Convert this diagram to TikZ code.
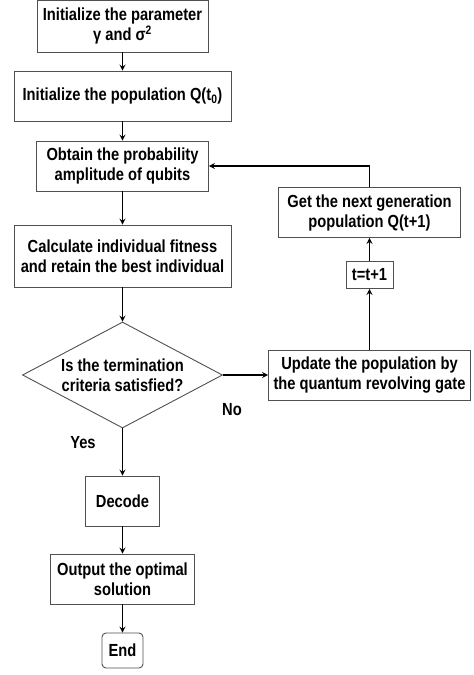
\documentclass[tikz,border=0pt]{standalone}
\usepackage{fontspec}
\setmainfont[FakeStretch=0.84]{Liberation Sans}
\usetikzlibrary{shapes.geometric, arrows}
\definecolor{boxline}{RGB}{80,80,80}
\tikzstyle{process} = [rectangle, align=center, draw=boxline, line width=0.9pt, inner sep=2pt]
\tikzstyle{decision} = [diamond, aspect=2, align=center, draw=boxline, line width=0.9pt, inner sep=0pt, minimum width=200pt, minimum height=106pt]
\tikzstyle{terminal} = [rectangle, rounded corners=4pt, align=center, draw=boxline, line width=0.9pt, inner sep=1pt, minimum width=41pt, minimum height=35pt]
\tikzstyle{arrow} = [line width=1.6pt, ->, >=stealth, draw=black]

\begin{document}
\begin{tikzpicture}[x=1pt, y=1pt, node distance=70pt, font=\fontsize{17.5}{20}\selectfont\bfseries]
  \useasboundingbox (0,0) rectangle (474,-675);
  % Draw nodes
  \node (param) [process, minimum width=171pt, minimum height=52pt] at (122.5,-26) {Initialize the parameter\\γ and σ\textsuperscript{2}};
  \node (pop) [process, below of=param, minimum width=217pt, minimum height=50pt] {Initialize the population Q(t\textsubscript{0})};
  \node (prob) [process, below of=pop, minimum width=172pt, minimum height=50pt] {Obtain the probability\\amplitude of qubits};
  \node (fit) [process, below of=prob, node distance=90pt, minimum width=217pt, minimum height=62pt] {Calculate individual fitness\\and retain the best individual};
  \node (stop) [decision, below of=fit, node distance=119pt] {Is the termination\\criteria satisfied?};
  \node (decode) [process, below of=stop, node distance=126pt, minimum width=74pt, minimum height=50pt] {Decode};
  \node (output) [process, below of=decode, node distance=78pt, minimum width=144pt, minimum height=50pt] {Output the optimal\\solution};
  \node (end) [terminal, below of=output, node distance=71.5pt] {End};
  \node (update) [process, right of=stop, node distance=247pt, minimum width=202pt, minimum height=50pt] {Update the population by\\the quantum revolving gate};
  \node (tinc) [process, above of=update, node distance=100pt, minimum width=47pt, minimum height=27pt, inner sep=1pt] {t=t+1};
  \node (next) [process, above of=tinc, node distance=62.5pt, minimum width=182pt, minimum height=50pt] {Get the next generation\\population Q(t+1)};
  \node (no) at (232,-410) {No};
  \node (yes) at (83,-443) {Yes};
  % Draw arrows
  \draw [arrow] (param) -- (pop);
  \draw [arrow] (pop) -- (prob);
  \draw [arrow] (prob) -- (fit);
  \draw [arrow] (fit) -- (stop);
  \draw [arrow] (stop) -- (decode);
  \draw [arrow] (decode) -- (output);
  \draw [arrow] (output) -- (end);
  \draw [arrow] (stop) -- (update);
  \draw [arrow] (update) -- (tinc);
  \draw [arrow] (tinc) -- (next);
  \draw [arrow] (next.north) |- (prob.east);
\end{tikzpicture}
\end{document}
